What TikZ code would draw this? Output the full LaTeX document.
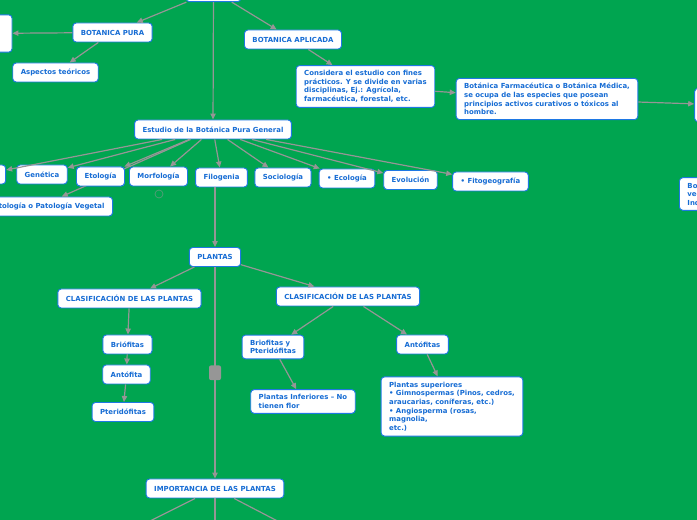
\documentclass[tikz,border=0pt]{standalone}
\usepackage{fontspec}
\setmainfont{DejaVu Sans}
\usepackage{xcolor}
\usetikzlibrary{arrows.meta, positioning}
\definecolor{mapgreen}{RGB}{0,165,80}
\definecolor{boxblue}{RGB}{30,120,228}
\definecolor{txtblue}{RGB}{22,108,212}
\definecolor{linegray}{RGB}{150,150,150}

\begin{document}
\begin{tikzpicture}[
  x=0.75pt, y=-0.75pt,
  box/.style={rectangle, rounded corners=2.5pt, draw=boxblue, line width=0.7pt, fill=white,
              text=txtblue, font=\fontsize{5.2}{6.5}\selectfont\bfseries,
              inner xsep=6pt, inner ysep=3.6pt, minimum height=14.25pt},
  multi/.style={box, align=left},
  arrow/.style={-{Triangle[length=4.5pt, width=4pt]}, draw=linegray, line width=0.9pt},
  handle/.style={rectangle, rounded corners=1.5pt, fill=linegray, minimum width=9pt,
                 minimum height=11pt, inner sep=0pt}
]
\useasboundingbox (0,0) rectangle (697,520);
\fill[mapgreen] (0,0) rectangle (697,520);
\clip (0,0) rectangle (697,520);

% top level
\node[box, minimum width=41pt, minimum height=16pt] (root) at (213.5,-9) {};
\node[box, minimum width=54pt, minimum height=28pt] (leftbox) at (-24,33.5) {};
\node[box] (bpura) at (112.5,32.5) {BOTANICA PURA};
\node[box] (aspectos) at (55.5,72.5) {Aspectos teóricos};
\node[box] (baplicada) at (293,39.5) {BOTANICA APLICADA};
\node[multi] (considera) at (365.5,86.5) {Considera el estudio con fines\\prácticos. Y se divide en varias\\disciplinas, Ej.: Agrícola,\\farmacéutica, forestal, etc.};
\node[multi] (farma) at (547,99) {Botánica Farmacéutica o Botánica Médica,\\se ocupa de las especies que posean\\principios activos curativos o tóxicos al\\hombre.};
\node[box, minimum width=50pt, minimum height=25pt] (rightbox) at (728,105) {};
\node[multi, anchor=west] (bobox) at (679,194) {Botánica\\vegetal\\Industrial};

% estudio y ramas
\node[box] (estudio) at (213,129.5) {Estudio de la Botánica Pura General};
\node[box, minimum width=34pt] (rowcut) at (-17,174.5) {};
\node[box] (genetica) at (42,174.5) {Genética};
\node[box] (etologia) at (100.5,176.5) {Etología};
\node[box] (morfologia) at (158.5,176.5) {Morfología};
\node[circle, draw=linegray!60!mapgreen, line width=0.5pt, minimum size=6pt, inner sep=0pt] (morfcount) at (159,194) {};
\node[box] (filogenia) at (221.5,177.5) {Filogenia};
\node[box] (sociologia) at (283,177.5) {Sociología};
\node[box] (ecologia) at (347,178.5) {• Ecología};
\node[box] (evolucion) at (410.5,180) {Evolución};
\node[box] (fitogeo) at (490.5,181.5) {• Fitogeografía};
\node[box, anchor=east] (fitopato) at (113,206.5) {Fitopatología o Patología Vegetal};

% plantas
\node[box] (plantas) at (215,257) {PLANTAS};
\node[box] (clasifa) at (129.5,298.5) {CLASIFICACIÓN DE LAS PLANTAS};
\node[box] (clasifb) at (348,296.5) {CLASIFICACIÓN DE LAS PLANTAS};
\node[box] (briofitas) at (127.5,344.5) {Briófitas};
\node[box] (antofita) at (126.5,374.5) {Antófita};
\node[box] (pterido) at (123,412) {Pteridófitas};
\node[multi] (briopter) at (273,347) {Briofitas y\\Pteridófitas};
\node[box] (antofitas) at (422.5,344.5) {Antófitas};
\node[multi] (inferiores) at (303,401.5) {Plantas Inferiores – No\\tienen flor};
\node[multi] (superiores) at (452,406.5) {Plantas superiores\\• Gimnospermas (Pinos, cedros,\\araucarias, coníferas, etc.)\\• Angiosperma (rosas,\\magnolia,\\etc.)};
\node[box] (importancia) at (215,488.5) {IMPORTANCIA DE LAS PLANTAS};
\coordinate (impa) at (138,527);
\coordinate (impb) at (215,527);
\coordinate (impc) at (289,527);

% connectors
\draw[arrow] (root) -- (bpura);
\draw[arrow] (root) -- (estudio);
\draw[arrow] (root) -- (baplicada);
\draw[arrow] (bpura) -- (leftbox);
\draw[arrow] (bpura) -- (aspectos);
\draw[arrow] (baplicada) -- (considera);
\draw[arrow] (considera) -- (farma);
\draw[arrow] (farma) -- (rightbox);
\foreach \child in {rowcut, genetica, etologia, morfologia, filogenia, sociologia, ecologia, evolucion, fitogeo}
  \draw[arrow] (estudio) -- (\child);
\draw[arrow] (plantas.north |- filogenia.south) -- (plantas);
\draw[arrow] (plantas) -- (clasifa);
\draw[arrow] (plantas) -- (clasifb);
\draw[arrow] (plantas) -- node[handle] (fold) {} (importancia);
\draw[arrow] (clasifa) -- (briofitas);
\draw[arrow] (briofitas) -- (antofita);
\draw[arrow] (antofita) -- (pterido);
\draw[arrow] (clasifb) -- (briopter);
\draw[arrow] (clasifb) -- (antofitas);
\draw[arrow] (briopter) -- (inferiores);
\draw[arrow] (antofitas) -- (superiores);
\draw[arrow] (importancia) -- (impa);
\draw[arrow] (importancia) -- (impb);
\draw[arrow] (importancia) -- (impc);

% redraw box crossed by the fitopatologia line
\draw[arrow] (estudio) -- (fitopato);
\node[box] at (etologia) {Etología};
\end{tikzpicture}
\end{document}
